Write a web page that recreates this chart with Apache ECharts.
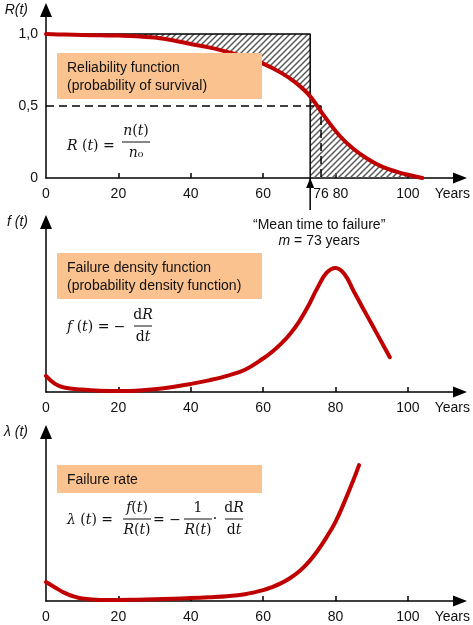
<!DOCTYPE html>
<html><head><meta charset="utf-8">
<script src="https://cdn.jsdelivr.net/npm/echarts@6/dist/echarts.min.js"></script>
<style>html,body{margin:0;padding:0;background:#fff}#c{width:473px;height:625px}</style>
</head><body><div id="c"></div>
<script>
// ---------- data ----------
const rYears  = [0,5,10,15,20,25,30,35,40,45,50,55,60,65,69,73,77,81,85,89,93,97,101,104];
const rValues = [1.0,0.996,0.993,0.991,0.989,0.985,0.975,0.957,0.93,0.907,0.876,0.841,0.794,0.73,0.662,0.567,0.426,0.297,0.201,0.13,0.077,0.043,0.017,0.0];
const fYears  = [0,2.5,5,10,15,20,25,30,35,40,45,50,55,60,62.5,65,67.5,70,72.5,75,77.5,80,82.5,85,87.5,90,92.5,95];
const fValues = [0.13,0.065,0.036,0.02,0.011,0.008,0.011,0.022,0.04,0.065,0.094,0.13,0.18,0.27,0.325,0.39,0.47,0.57,0.695,0.84,0.96,1.0,0.95,0.815,0.68,0.548,0.414,0.28];
const lYears  = [0,2.5,5,7.5,10,15,20,25,30,35,40,45,50,55,60,62.5,65,67.5,70,72.5,75,77.5,80,82.5,85,86.5];
const lValues = [0.14,0.10,0.062,0.035,0.018,0.008,0.008,0.01,0.013,0.017,0.022,0.028,0.035,0.05,0.08,0.103,0.132,0.17,0.22,0.286,0.37,0.471,0.585,0.735,0.898,1.005];
const meanTime = 73;
const medianTime = 76;
const halfLevel = 0.5;
const rTicks = [0, 0.5, 1];
const rTickLabels = ['0', '0,5', '1,0'];
const xTicks = [0, 20, 40, 60, 80, 100];
const xTicksTop = [0, 20, 40, 60, 76, 80, 100];

// ---------- helpers ----------
const zip = (xs, ys) => xs.map((x, i) => [x, ys[i]]);
const rPts = zip(rYears, rValues);
const SANS = '"Liberation Sans", Arial, sans-serif';
const SERIF = '"DejaVu Serif", serif';
const RED = '#C00000';
const INK = '#111';
const BOX = '#FAC28F';
const SMOOTH = 0.4;

function hatchCanvas() {
  const c = document.createElement('canvas');
  c.width = 6; c.height = 6;
  const g = c.getContext('2d');
  g.strokeStyle = '#5a5a5a'; g.lineWidth = 1.5;
  g.beginPath();
  g.moveTo(-1, 7); g.lineTo(7, -1);
  g.moveTo(-1, 1); g.lineTo(1, -1);
  g.moveTo(5, 7); g.lineTo(7, 5);
  g.stroke();
  return c;
}
const hatch = { image: hatchCanvas(), repeat: 'repeat' };

function xAxisCfg(gi, labels, topAxis) {
  return {
    gridIndex: gi, type: 'value', min: 0, max: 114.4,
    name: 'Years', nameLocation: 'end', nameGap: 10,
    nameTextStyle: { align: 'right', verticalAlign: 'top', padding: [9, 0, 0, 0], fontSize: 14, fontFamily: SANS, color: INK },
    axisLine: { lineStyle: { color: '#000', width: 1.5 }, symbol: ['none', 'triangle'], symbolSize: [11, 14] },
    axisTick: { inside: true, length: 5, customValues: [20, 40, 60, 80, 100], lineStyle: { color: '#000', width: 1.5 } },
    axisLabel: {
      customValues: labels, margin: 9, fontSize: 14, fontFamily: SANS, color: INK,
      formatter: v => (topAxis && v === 80) ? '{s|80}' : String(v),
      rich: { s: { padding: [0, 0, 0, 10], fontSize: 14, fontFamily: SANS, color: INK } }
    },
    splitLine: { show: false }
  };
}
function yAxisCfg(gi, max, name, withLabels) {
  return {
    gridIndex: gi, type: 'value', min: 0, max: max,
    name: name, nameLocation: 'end', nameGap: 0,
    nameTextStyle: { align: 'right', verticalAlign: 'middle', padding: [0, 18, 0, 0], fontSize: 14, fontStyle: 'italic', fontFamily: SANS, color: INK },
    axisLine: { lineStyle: { color: '#000', width: 1.5 }, symbol: ['none', 'triangle'], symbolSize: [12, 14] },
    axisTick: { show: false },
    axisLabel: withLabels ? {
      customValues: rTicks, margin: 8, fontSize: 14, fontFamily: SANS, color: INK,
      formatter: v => rTickLabels[rTicks.indexOf(v)]
    } : { show: false },
    splitLine: { show: false }
  };
}
function curve(gi, data) {
  return {
    type: 'line', xAxisIndex: gi, yAxisIndex: gi, data: data, smooth: SMOOTH,
    symbol: 'none', lineStyle: { color: RED, width: 4, cap: 'round', join: 'round' }, z: 5, silent: true
  };
}

const chart = echarts.init(document.getElementById('c'), null, { renderer: 'canvas' });
chart.setOption({
  animation: false,
  backgroundColor: '#fff',
  grid: [
    { left: 46, top: 10, width: 414, height: 168 },
    { left: 46, top: 222, width: 414, height: 170 },
    { left: 46, top: 432, width: 414, height: 169 }
  ],
  xAxis: [xAxisCfg(0, xTicksTop, true), xAxisCfg(1, xTicks, false), xAxisCfg(2, xTicks, false)],
  yAxis: [yAxisCfg(0, 1.1667, 'R(t)', true), yAxisCfg(1, 1.371, 'f (t)', false), yAxisCfg(2, 1.25, 'λ (t)', false)],
  series: [
    // hatched areas
    { type: 'line', xAxisIndex: 0, yAxisIndex: 0, data: rPts.filter(p => p[0] <= meanTime),
      smooth: SMOOTH, symbol: 'none', lineStyle: { width: 0 },
      areaStyle: { color: hatch, origin: 1, opacity: 1 }, z: 1, silent: true },
    { type: 'line', xAxisIndex: 0, yAxisIndex: 0, data: rPts.filter(p => p[0] >= meanTime),
      smooth: SMOOTH, symbol: 'none', lineStyle: { width: 0 },
      areaStyle: { color: hatch, origin: 'start', opacity: 1 }, z: 1, silent: true },
    // rectangle (area equal to mean time)
    { type: 'line', xAxisIndex: 0, yAxisIndex: 0, data: [[0, 1], [meanTime, 1], [meanTime, 0]],
      symbol: 'none', lineStyle: { color: '#000', width: 1.5 }, z: 3, silent: true },
    // median dashed
    { type: 'line', xAxisIndex: 0, yAxisIndex: 0, data: [[0, halfLevel], [medianTime, halfLevel], [medianTime, 0]],
      symbol: 'none', lineStyle: { color: '#000', width: 1.5, type: [8, 5] }, z: 3, silent: true },
    curve(0, rPts),
    curve(1, zip(fYears, fValues)),
    curve(2, zip(lYears, lValues))
  ]
});

// ---------- annotations ----------
const RICH = {
  i: { font: 'italic 14px ' + SERIF, fill: INK }
};
function t(x, y, text, align, font) {
  return { type: 'text', x: x, y: y, z: 100, silent: true,
    style: { text: text, font: font || ('14px ' + SERIF), fill: INK, align: align || 'left', verticalAlign: 'middle', rich: RICH } };
}
function frac(cx, my, num, den, hw) {
  return [
    t(cx, my - 11, num, 'center'),
    t(cx, my + 11, den, 'center'),
    { type: 'line', z: 100, silent: true, shape: { x1: cx - hw, y1: my, x2: cx + hw, y2: my }, style: { stroke: INK, lineWidth: 1 } }
  ];
}
function box(x, y, w, h) {
  return { type: 'rect', z: 90, silent: true, shape: { x: x, y: y, width: w, height: h }, style: { fill: BOX } };
}
const sans = '14px ' + SANS;

const base = chart.convertToPixel({ gridIndex: 0 }, [meanTime, 0]);
const px = base[0], py = base[1];

const g = [
  box(57, 53, 205, 46),
  t(67, 68, 'Reliability function', 'left', sans),
  t(67, 86, '(probability of survival)', 'left', sans),
  box(57, 253, 205, 46),
  t(67, 268, 'Failure density function', 'left', sans),
  t(67, 286, '(probability density function)', 'left', sans),
  box(57, 465, 205, 28),
  t(67, 480, 'Failure rate', 'left', sans),
  // formulas
  t(67, 146, '{i|R} ({i|t}) ='),
  ...frac(136, 142, '{i|n}({i|t})', '{i|n}₀', 14),
  t(67, 327, '{i|f} ({i|t}) = −'),
  ...frac(143, 326, 'd{i|R}', 'd{i|t}', 9),
  t(67, 520, '{i|λ} ({i|t}) ='),
  ...frac(137, 519, '{i|f}({i|t})', '{i|R}({i|t})', 14),
  t(153, 520, '= −'),
  ...frac(198, 519, '1', '{i|R}({i|t})', 14),
  t(215, 519, '·', 'center'),
  ...frac(234, 519, 'd{i|R}', 'd{i|t}', 9),
  // mean time marker below axis
  { type: 'line', z: 100, silent: true, shape: { x1: px, y1: py, x2: px, y2: py + 32 }, style: { stroke: '#000', lineWidth: 1.5 } },
  { type: 'polygon', z: 101, silent: true, shape: { points: [[px, py], [px - 4, py + 10], [px + 4, py + 10]] }, style: { fill: '#000' } },
  { type: 'text', x: px + 9, y: 225, z: 100, silent: true,
    style: { text: '\u201CMean time to failure\u201D', font: sans, fill: INK, align: 'center', verticalAlign: 'middle' } },
  { type: 'text', x: px + 9, y: 241, z: 100, silent: true,
    style: { text: '{m|m} = ' + meanTime + ' years', font: sans, fill: INK, align: 'center', verticalAlign: 'middle',
      rich: { m: { font: 'italic 14px ' + SANS, fill: INK } } } }
];
chart.setOption({ graphic: g });
</script>
</body></html>
